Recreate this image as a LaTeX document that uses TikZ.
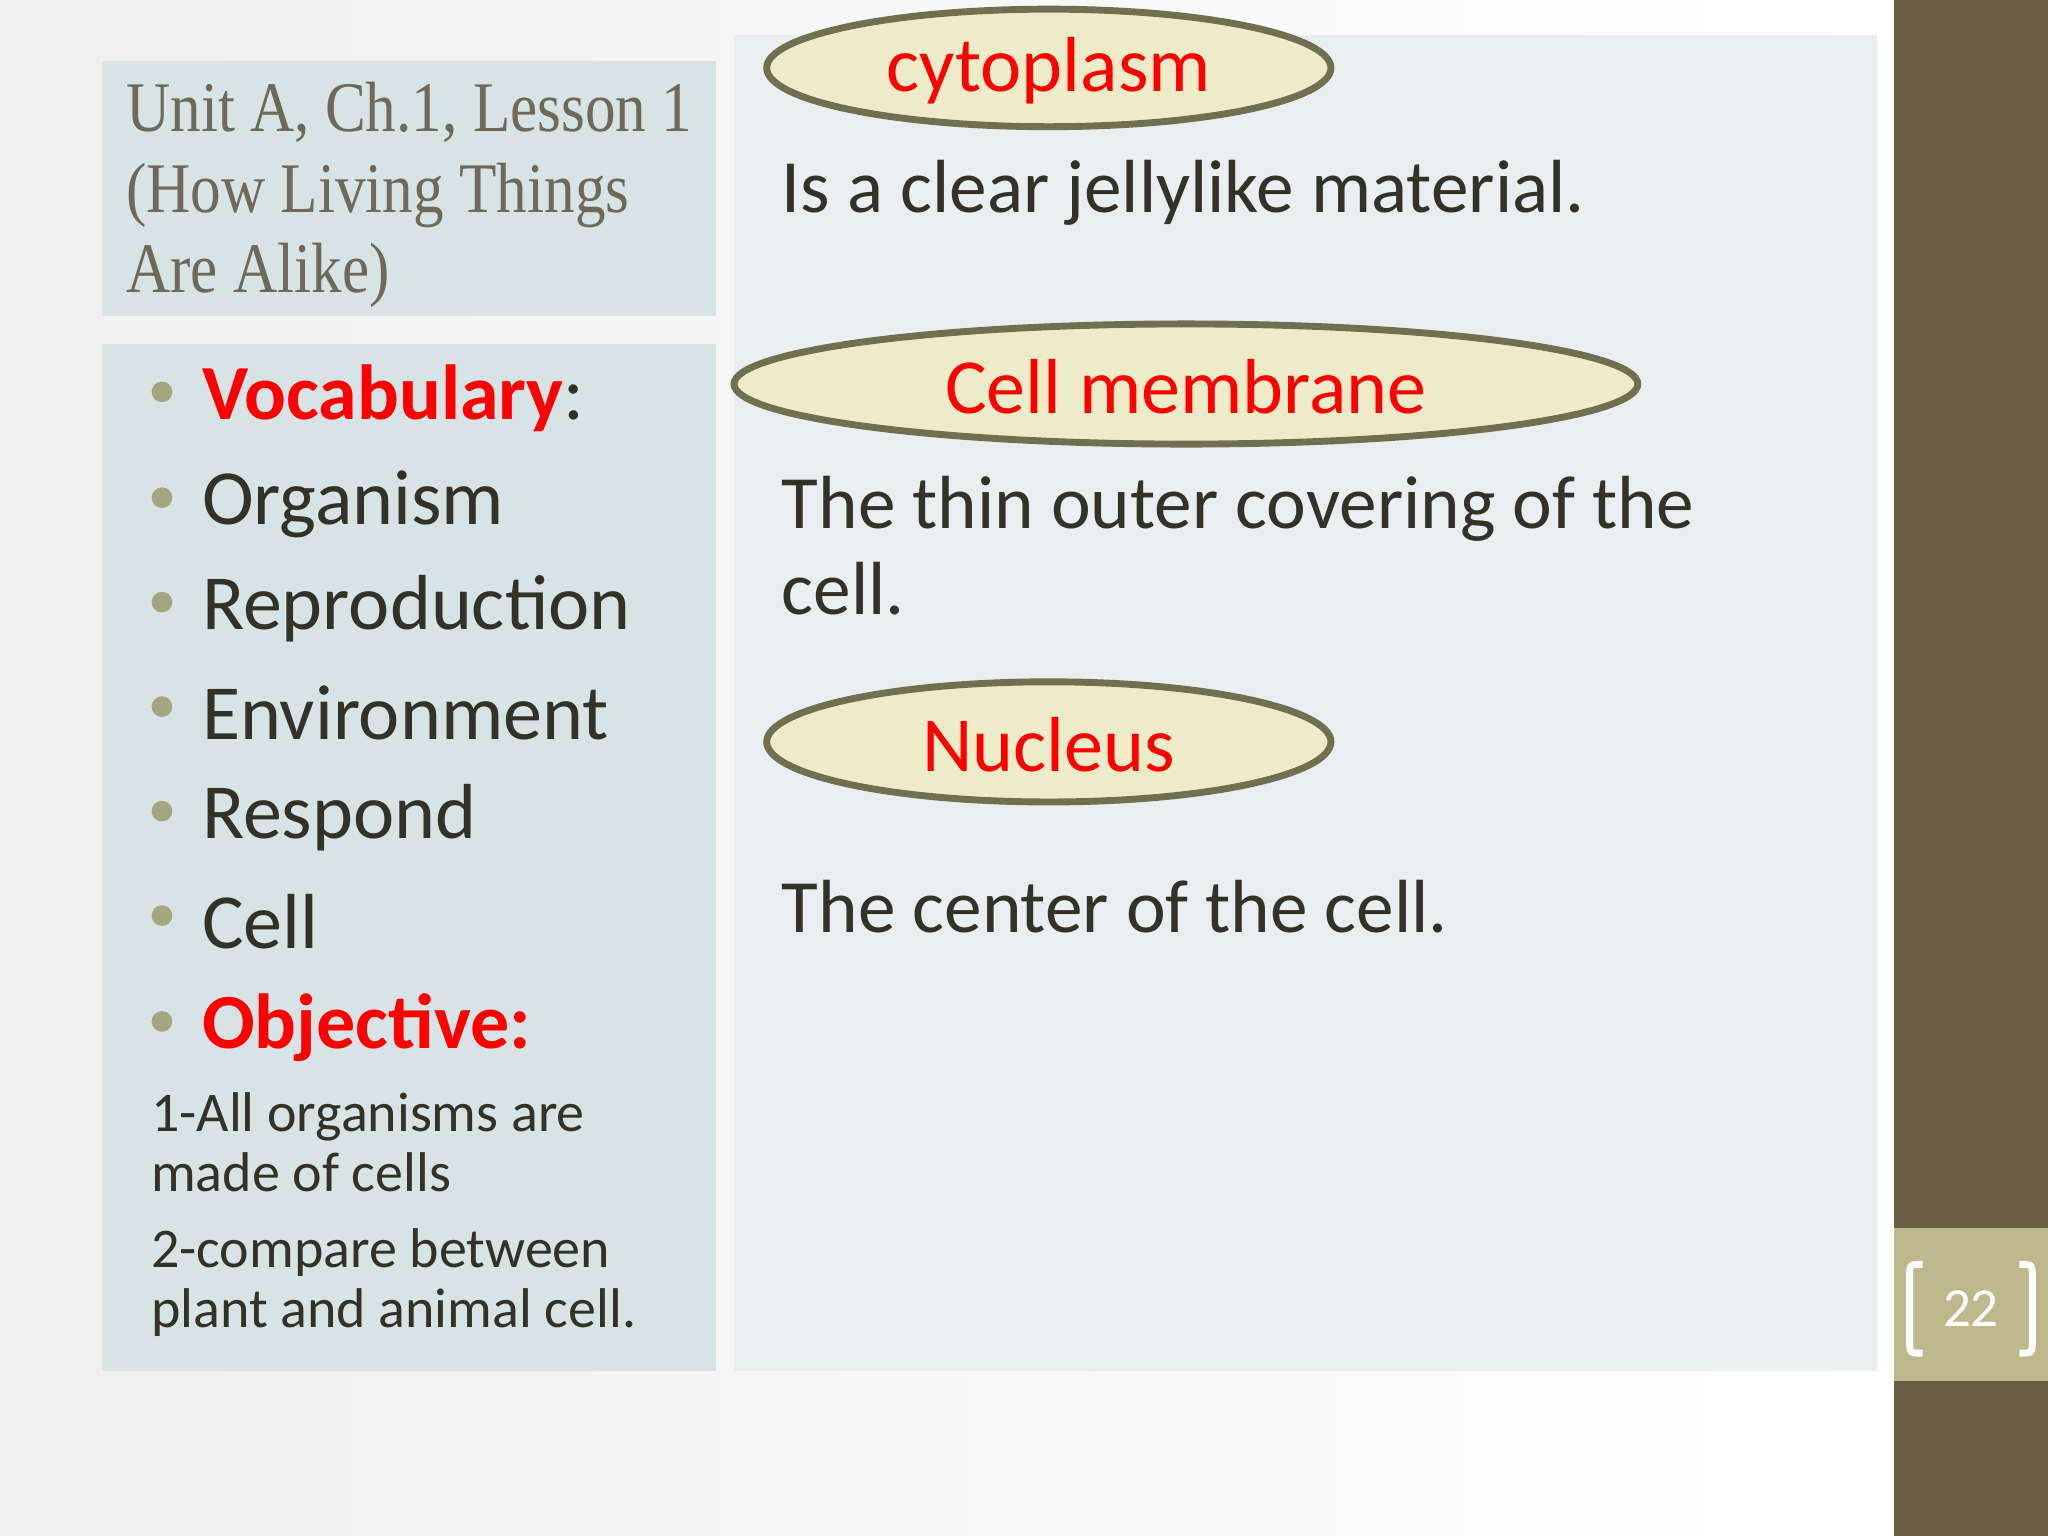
\documentclass[tikz,border=0pt]{standalone}
\usepackage{fontspec}
\setmainfont{Carlito}
\newfontfamily\titlefont[FakeStretch=0.86]{Liberation Serif}
\usetikzlibrary{shapes.geometric}
\definecolor{strip}{RGB}{104,92,68}
\definecolor{pgbox}{RGB}{190,185,140}
\definecolor{leftbox}{RGB}{215,227,228}
\definecolor{rightbox}{RGB}{233,238,240}
\definecolor{ellfill}{RGB}{238,236,200}
\definecolor{elldraw}{RGB}{112,112,80}
\definecolor{txt}{RGB}{50,50,40}
\definecolor{ttxt}{RGB}{110,105,90}
\definecolor{bul}{RGB}{165,165,130}
\tikzset{
  ell/.style={ellipse,fill=ellfill,draw=elldraw,line width=1.5pt,inner sep=0pt},
  lab/.style={text=red,font=\fontsize{17}{19}\selectfont},
  item/.style={anchor=west,text=txt,font=\fontsize{17}{19}\selectfont},
  bullet/.style={circle,fill=bul,inner sep=0pt,minimum size=4.5pt},
  deftext/.style={anchor=north west,text=txt,align=left,font=\fontsize{16.4}{18.6}\selectfont},
}
\begin{document}
\begin{tikzpicture}[x=0.1mm,y=-0.1mm]
\useasboundingbox (0,0) rectangle (1568,1176);
\shade[left color=gray!12,right color=white] (0,0) rectangle (1450,1176);
\fill[strip] (1450,0) rectangle (1568,1176);
\fill[pgbox] (1450,940) rectangle (1568,1057);
\draw[white,line width=1.5pt] (1472,968) .. controls (1462,968) .. (1462,978) -- (1462,1026) .. controls (1462,1036) .. (1472,1036);
\draw[white,line width=1.5pt] (1546,968) .. controls (1556,968) .. (1556,978) -- (1556,1026) .. controls (1556,1036) .. (1546,1036);
\node[text=white,font=\fontsize{12}{14}\selectfont] (pg) at (1509,1002) {22};
\fill[leftbox] (78,47) rectangle (548,242);
\fill[leftbox] (78,263) rectangle (548,1050);
\fill[rightbox] (562,27) rectangle (1437,1050);
\node[anchor=north west,text=ttxt,align=left,font=\titlefont\fontsize{15.5}{17.6}\selectfont,inner sep=0pt] (title) at (96,62)
 {Unit A, Ch.1, Lesson 1\\(How Living Things\\Are Alike)};
\foreach \y/\t [count=\i] in {305/{\textcolor{red}{\textbf{Vocabulary}}:},386/Organism,466/Reproduction,546/Environment,626/Respond,706/Cell,787/{\textcolor{red}{\textbf{Objective:}}}}{
  \node[bullet] (b\i) at (124,\y-5) {};
  \node[item,inner sep=0pt] (it\i) at (154,\y) {\t};
}
\node[anchor=north west,text=txt,align=left,inner sep=0pt,font=\fontsize{12.2}{13}\selectfont] (obj1) at (115,836) {1-All organisms are\\made of cells};
\node[anchor=north west,text=txt,align=left,inner sep=0pt,font=\fontsize{12.2}{13}\selectfont] (obj2) at (115,940) {2-compare between\\plant and animal cell.};
\node[ell,minimum width=43.2mm,minimum height=9mm] (e1) at (803,52) {};
\node[lab] at (803,54) {cytoplasm};
\node[ell,minimum width=69.2mm,minimum height=9.2mm] (e2) at (908,294) {};
\node[lab] at (908,296) {Cell membrane};
\node[ell,minimum width=43.2mm,minimum height=9.2mm] (e3) at (803,568) {};
\node[lab] at (803,570) {Nucleus};
\node[deftext,inner sep=0pt] (d1) at (598,122) {Is a clear jellylike material.};
\node[deftext,inner sep=0pt] (d2) at (598,364) {The thin outer covering of the\\cell.};
\node[deftext,inner sep=0pt] (d3) at (598,673) {The center of the cell.};
\end{tikzpicture}
\end{document}
